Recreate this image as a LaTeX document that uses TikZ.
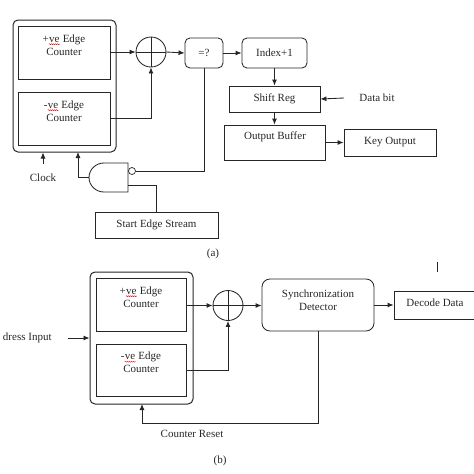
\documentclass[tikz,border=0pt]{standalone}
\usepackage{fontspec}
\setmainfont{Liberation Serif}
\usepackage{tikz}
\usetikzlibrary{arrows.meta}
\usetikzlibrary{decorations.pathmorphing}
\tikzset{
    box/.style={draw, rectangle, inner sep=0pt},
    rbox/.style={draw, rectangle, rounded corners=5pt, inner sep=0pt},
    lbl/.style={inner sep=0pt, align=center, font=\fontsize{11}{13}\selectfont},
    sig/.style={-{Latex[length=6pt,width=5pt]}}}
\newcommand{\spellerr}[1]{\tikz[baseline=(w.base)]{\node[inner sep=0pt] (w) {#1};
  \draw[red, line width=.4pt, decorate, decoration={snake, amplitude=.5pt, segment length=2pt}]
  ([yshift=-1.6pt]w.south west) -- ([yshift=-1.6pt]w.south east);}}

\begin{document}
\begin{tikzpicture}[x=1pt, y=-1pt, line width=.85pt, color={black!85}]
\useasboundingbox (0,0) rectangle (474,474);
\clip (0,0) rectangle (474,474);

%First diagram (a)
\node[rbox, line width=1pt, minimum width=103pt, minimum height=132pt] (outA) at (64.5,86) {};
\node[box, minimum width=92pt, minimum height=53pt] (posA) at (64,52.5) {};
\node[box, minimum width=92pt, minimum height=53pt] (negA) at (64,118.5) {};
\node[lbl] (posAt) at (64,45) {+\spellerr{ve} Edge\\Counter};
\node[lbl] (negAt) at (64,111) {-\spellerr{ve} Edge\\Counter};
\node[draw, circle, minimum size=30pt, inner sep=0pt] (sumA) at (151,52) {};
\draw (sumA.north) -- (sumA.south);
\draw (sumA.west) -- (sumA.east);
\node[rbox, minimum width=38pt, minimum height=30pt, lbl] (cmpA) at (204,53) {=?};
\node[rbox, minimum width=65pt, minimum height=30pt, lbl] (idxA) at (274.5,53) {Index+1};
\node[box, minimum width=91pt, minimum height=26pt, lbl] (shiftA) at (274.5,99) {Shift Reg};
\node[lbl] (dataA) at (377,98) {Data bit};
\node[box, minimum width=101pt, minimum height=35pt] (bufA) at (274.5,142.5) {};
\node[lbl] (bufAt) at (275,137) {Output Buffer};
\node[box, minimum width=92pt, minimum height=27pt, lbl] (keyA) at (390,142.5) {Key Output};
\node[box, minimum width=123pt, minimum height=26pt, lbl] (startA) at (156.5,225) {Start Edge Stream};
\node[lbl] (clockA) at (43,178) {Clock};
\node[lbl] (capA) at (213,254) {(a)};

%gate
\draw (128,163) -- (104,163) arc[start angle=90, end angle=270, x radius=15, y radius=-14.5] -- (128,192) -- cycle;
\node[draw, circle, minimum size=7pt, inner sep=0pt, line width=.7pt] (bubA) at (132,171) {};
\coordinate (gIn) at (89,177.5);
\coordinate (gLow) at (128,185);

\draw [sig] (posA.east |- sumA) -- (sumA.west);
\draw [sig] (negA.east) -| (sumA.south);
\draw [sig] (sumA.east) -- (cmpA.west);
\draw [sig] (cmpA.east) -- (idxA.west);
\draw [sig] (idxA.south) -- (shiftA.north);
\draw [sig] ([xshift=-33pt]dataA.center) -- (shiftA.east);
\draw [sig] (shiftA.south) -- (bufA.north);
\draw [sig] (bufA.east |- keyA) -- (keyA.west);
\draw (cmpA.south) |- (bubA.east);
\draw [sig] (gIn) -| (78,152);
\draw (gLow) -| (startA.north);
\draw [sig] (clockA.north |- 0,164) -- (clockA.north |- outA.south);

%Second diagram (b)
\node[rbox, line width=1pt, minimum width=103pt, minimum height=132pt] (outB) at (141.5,338) {};
\node[box, minimum width=90pt, minimum height=53pt] (posB) at (141,304.5) {};
\node[box, minimum width=90pt, minimum height=52pt] (negB) at (141,370) {};
\node[lbl] (posBt) at (141,297) {+\spellerr{ve} Edge\\Counter};
\node[lbl] (negBt) at (141,362.5) {-\spellerr{ve} Edge\\Counter};
\node[draw, circle, minimum size=30pt, inner sep=0pt] (sumB) at (228,305.5) {};
\draw (sumB.north) -- (sumB.south);
\draw (sumB.west) -- (sumB.east);
\node[rbox, rounded corners=8pt, minimum width=112pt, minimum height=52pt] (syncB) at (318,305) {};
\node[lbl] (syncBt) at (318,300) {Synchronization\\Detector};
\node[box, minimum width=82pt, minimum height=28pt] (decB) at (435,305) {};
\node[lbl] (decBt) at (435,303) {Decode Data};
\node[lbl, anchor=east] (addrB) at (52,338) {dress Input};
\node[lbl] (resetB) at (192,434) {Counter Reset};
\node[lbl] (capB) at (220,461) {(b)};
\coordinate (curT) at (437,262);
\coordinate (curB) at (437,272);
\draw [line width=.7pt] (curT) -- (curB);

\draw [sig] (posB.east |- sumB) -- (sumB.west);
\draw [sig] (negB.east) -| (sumB.south);
\draw [sig] (sumB.east) -- (syncB.west |- sumB);
\draw [sig] (syncB.east) -- (decB.west);
\draw [sig] (68,338) -- (outB.west |- 0,338);
\draw [sig] (syncB.south) |- (142,423) -- (142,404);

\end{tikzpicture}
\end{document}
